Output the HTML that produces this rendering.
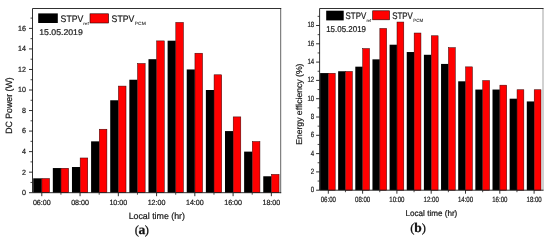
<!DOCTYPE html>
<html><head><meta charset="utf-8"><title>Figure</title>
<style>html,body{margin:0;padding:0;background:#fff}svg{display:block;filter:blur(0.35px)}</style></head>
<body>
<svg width="550" height="241" viewBox="0 0 550 241">
<style>
text{font-family:"Liberation Sans",sans-serif;fill:#1a1a1a;stroke:#1a1a1a;stroke-width:0.22px;font-variant-ligatures:none;text-rendering:geometricPrecision}
text.sub{stroke-width:0.08px;fill:#2a2a2a}
text.cap{font-family:"Liberation Serif",serif;fill:#111;stroke:#111;stroke-width:0.25px}
</style>
<rect width="550" height="241" fill="#fff"/>
<rect x="33.20" y="178.32" width="8.60" height="14.38" fill="#000"/>
<rect x="41.90" y="178.52" width="7.60" height="14.18" fill="#f00" stroke="#300" stroke-width="0.5"/>
<rect x="52.83" y="168.05" width="8.10" height="24.65" fill="#000"/>
<rect x="61.03" y="168.25" width="7.60" height="24.45" fill="#f00" stroke="#300" stroke-width="0.5"/>
<rect x="71.96" y="167.02" width="8.10" height="25.68" fill="#000"/>
<rect x="80.16" y="157.98" width="7.60" height="34.72" fill="#f00" stroke="#300" stroke-width="0.5"/>
<rect x="91.09" y="141.35" width="8.10" height="51.35" fill="#000"/>
<rect x="99.29" y="129.23" width="7.60" height="63.47" fill="#f00" stroke="#300" stroke-width="0.5"/>
<rect x="110.22" y="100.27" width="8.10" height="92.43" fill="#000"/>
<rect x="118.42" y="86.09" width="7.60" height="106.61" fill="#f00" stroke="#300" stroke-width="0.5"/>
<rect x="129.35" y="79.73" width="8.10" height="112.97" fill="#000"/>
<rect x="137.55" y="63.50" width="7.60" height="129.20" fill="#f00" stroke="#300" stroke-width="0.5"/>
<rect x="148.48" y="59.19" width="8.10" height="133.51" fill="#000"/>
<rect x="156.68" y="40.90" width="7.60" height="151.80" fill="#f00" stroke="#300" stroke-width="0.5"/>
<rect x="167.61" y="40.70" width="8.10" height="152.00" fill="#000"/>
<rect x="175.81" y="22.42" width="7.60" height="170.28" fill="#f00" stroke="#300" stroke-width="0.5"/>
<rect x="186.74" y="69.46" width="8.10" height="123.24" fill="#000"/>
<rect x="194.94" y="53.23" width="7.60" height="139.47" fill="#f00" stroke="#300" stroke-width="0.5"/>
<rect x="205.87" y="90.00" width="8.10" height="102.70" fill="#000"/>
<rect x="214.07" y="74.80" width="7.60" height="117.90" fill="#f00" stroke="#300" stroke-width="0.5"/>
<rect x="225.00" y="131.08" width="8.10" height="61.62" fill="#000"/>
<rect x="233.20" y="116.90" width="7.60" height="75.80" fill="#f00" stroke="#300" stroke-width="0.5"/>
<rect x="244.13" y="151.62" width="8.10" height="41.08" fill="#000"/>
<rect x="252.33" y="141.55" width="7.60" height="51.15" fill="#f00" stroke="#300" stroke-width="0.5"/>
<rect x="263.26" y="176.27" width="8.10" height="16.43" fill="#000"/>
<rect x="271.46" y="174.41" width="7.60" height="18.29" fill="#f00" stroke="#300" stroke-width="0.5"/>
<path d="M280.7 8.05V193.14999999999998" fill="none" stroke="#555" stroke-width="0.9"/>
<path d="M280.7 8.5H32.5V192.7H280.7" fill="none" stroke="#1a1a1a" stroke-width="0.9" stroke-linecap="square"/>
<line x1="29.0" x2="32.5" y1="192.70" y2="192.70" stroke="#1a1a1a" stroke-width="0.9"/>
<text transform="translate(26.00,195.10) scale(0.95,1)" font-size="7.5" text-anchor="end">0</text>
<line x1="30.5" x2="32.5" y1="182.43" y2="182.43" stroke="#1a1a1a" stroke-width="0.8"/>
<line x1="29.0" x2="32.5" y1="172.16" y2="172.16" stroke="#1a1a1a" stroke-width="0.9"/>
<text transform="translate(26.00,174.56) scale(0.95,1)" font-size="7.5" text-anchor="end">2</text>
<line x1="30.5" x2="32.5" y1="161.89" y2="161.89" stroke="#1a1a1a" stroke-width="0.8"/>
<line x1="29.0" x2="32.5" y1="151.62" y2="151.62" stroke="#1a1a1a" stroke-width="0.9"/>
<text transform="translate(26.00,154.02) scale(0.95,1)" font-size="7.5" text-anchor="end">4</text>
<line x1="30.5" x2="32.5" y1="141.35" y2="141.35" stroke="#1a1a1a" stroke-width="0.8"/>
<line x1="29.0" x2="32.5" y1="131.08" y2="131.08" stroke="#1a1a1a" stroke-width="0.9"/>
<text transform="translate(26.00,133.48) scale(0.95,1)" font-size="7.5" text-anchor="end">6</text>
<line x1="30.5" x2="32.5" y1="120.81" y2="120.81" stroke="#1a1a1a" stroke-width="0.8"/>
<line x1="29.0" x2="32.5" y1="110.54" y2="110.54" stroke="#1a1a1a" stroke-width="0.9"/>
<text transform="translate(26.00,112.94) scale(0.95,1)" font-size="7.5" text-anchor="end">8</text>
<line x1="30.5" x2="32.5" y1="100.27" y2="100.27" stroke="#1a1a1a" stroke-width="0.8"/>
<line x1="29.0" x2="32.5" y1="90.00" y2="90.00" stroke="#1a1a1a" stroke-width="0.9"/>
<text transform="translate(26.00,92.40) scale(0.95,1)" font-size="7.5" text-anchor="end">10</text>
<line x1="30.5" x2="32.5" y1="79.73" y2="79.73" stroke="#1a1a1a" stroke-width="0.8"/>
<line x1="29.0" x2="32.5" y1="69.46" y2="69.46" stroke="#1a1a1a" stroke-width="0.9"/>
<text transform="translate(26.00,71.86) scale(0.95,1)" font-size="7.5" text-anchor="end">12</text>
<line x1="30.5" x2="32.5" y1="59.19" y2="59.19" stroke="#1a1a1a" stroke-width="0.8"/>
<line x1="29.0" x2="32.5" y1="48.92" y2="48.92" stroke="#1a1a1a" stroke-width="0.9"/>
<text transform="translate(26.00,51.32) scale(0.95,1)" font-size="7.5" text-anchor="end">14</text>
<line x1="30.5" x2="32.5" y1="38.65" y2="38.65" stroke="#1a1a1a" stroke-width="0.8"/>
<line x1="29.0" x2="32.5" y1="28.38" y2="28.38" stroke="#1a1a1a" stroke-width="0.9"/>
<text transform="translate(26.00,30.78) scale(0.95,1)" font-size="7.5" text-anchor="end">16</text>
<line x1="30.5" x2="32.5" y1="18.11" y2="18.11" stroke="#1a1a1a" stroke-width="0.8"/>
<line x1="41.80" x2="41.80" y1="192.7" y2="196.2" stroke="#1a1a1a" stroke-width="0.9"/>
<text transform="translate(41.80,204.50) scale(0.95,1)" font-size="7.5" text-anchor="middle">06:00</text>
<line x1="60.93" x2="60.93" y1="192.7" y2="194.7" stroke="#1a1a1a" stroke-width="0.8"/>
<line x1="80.06" x2="80.06" y1="192.7" y2="196.2" stroke="#1a1a1a" stroke-width="0.9"/>
<text transform="translate(80.06,204.50) scale(0.95,1)" font-size="7.5" text-anchor="middle">08:00</text>
<line x1="99.19" x2="99.19" y1="192.7" y2="194.7" stroke="#1a1a1a" stroke-width="0.8"/>
<line x1="118.32" x2="118.32" y1="192.7" y2="196.2" stroke="#1a1a1a" stroke-width="0.9"/>
<text transform="translate(118.32,204.50) scale(0.95,1)" font-size="7.5" text-anchor="middle">10:00</text>
<line x1="137.45" x2="137.45" y1="192.7" y2="194.7" stroke="#1a1a1a" stroke-width="0.8"/>
<line x1="156.58" x2="156.58" y1="192.7" y2="196.2" stroke="#1a1a1a" stroke-width="0.9"/>
<text transform="translate(156.58,204.50) scale(0.95,1)" font-size="7.5" text-anchor="middle">12:00</text>
<line x1="175.71" x2="175.71" y1="192.7" y2="194.7" stroke="#1a1a1a" stroke-width="0.8"/>
<line x1="194.84" x2="194.84" y1="192.7" y2="196.2" stroke="#1a1a1a" stroke-width="0.9"/>
<text transform="translate(194.84,204.50) scale(0.95,1)" font-size="7.5" text-anchor="middle">14:00</text>
<line x1="213.97" x2="213.97" y1="192.7" y2="194.7" stroke="#1a1a1a" stroke-width="0.8"/>
<line x1="233.10" x2="233.10" y1="192.7" y2="196.2" stroke="#1a1a1a" stroke-width="0.9"/>
<text transform="translate(233.10,204.50) scale(0.95,1)" font-size="7.5" text-anchor="middle">16:00</text>
<line x1="252.23" x2="252.23" y1="192.7" y2="194.7" stroke="#1a1a1a" stroke-width="0.8"/>
<line x1="271.36" x2="271.36" y1="192.7" y2="196.2" stroke="#1a1a1a" stroke-width="0.9"/>
<text transform="translate(271.36,204.50) scale(0.95,1)" font-size="7.5" text-anchor="middle">18:00</text>
<rect x="320.10" y="73.08" width="8.20" height="117.12" fill="#000"/>
<rect x="328.40" y="73.28" width="6.80" height="116.92" fill="#f00" stroke="#300" stroke-width="0.5"/>
<rect x="338.15" y="71.25" width="7.30" height="118.95" fill="#000"/>
<rect x="345.55" y="71.45" width="6.80" height="118.75" fill="#f00" stroke="#300" stroke-width="0.5"/>
<rect x="355.30" y="66.67" width="7.30" height="123.53" fill="#000"/>
<rect x="362.70" y="48.57" width="6.80" height="141.63" fill="#f00" stroke="#300" stroke-width="0.5"/>
<rect x="372.45" y="59.35" width="7.30" height="130.84" fill="#000"/>
<rect x="379.85" y="28.44" width="6.80" height="161.76" fill="#f00" stroke="#300" stroke-width="0.5"/>
<rect x="389.60" y="44.71" width="7.30" height="145.49" fill="#000"/>
<rect x="397.00" y="22.04" width="6.80" height="168.16" fill="#f00" stroke="#300" stroke-width="0.5"/>
<rect x="406.75" y="52.03" width="7.30" height="138.16" fill="#000"/>
<rect x="414.15" y="33.02" width="6.80" height="157.18" fill="#f00" stroke="#300" stroke-width="0.5"/>
<rect x="423.90" y="54.78" width="7.30" height="135.42" fill="#000"/>
<rect x="431.30" y="35.77" width="6.80" height="154.44" fill="#f00" stroke="#300" stroke-width="0.5"/>
<rect x="441.05" y="63.93" width="7.30" height="126.27" fill="#000"/>
<rect x="448.45" y="47.66" width="6.80" height="142.54" fill="#f00" stroke="#300" stroke-width="0.5"/>
<rect x="458.20" y="81.31" width="7.30" height="108.89" fill="#000"/>
<rect x="465.60" y="66.87" width="6.80" height="123.33" fill="#f00" stroke="#300" stroke-width="0.5"/>
<rect x="475.35" y="89.55" width="7.30" height="100.65" fill="#000"/>
<rect x="482.75" y="80.60" width="6.80" height="109.60" fill="#f00" stroke="#300" stroke-width="0.5"/>
<rect x="492.50" y="89.55" width="7.30" height="100.65" fill="#000"/>
<rect x="499.90" y="85.17" width="6.80" height="105.03" fill="#f00" stroke="#300" stroke-width="0.5"/>
<rect x="509.65" y="98.70" width="7.30" height="91.50" fill="#000"/>
<rect x="517.05" y="89.75" width="6.80" height="100.45" fill="#f00" stroke="#300" stroke-width="0.5"/>
<rect x="526.80" y="101.44" width="7.30" height="88.75" fill="#000"/>
<rect x="534.20" y="89.75" width="6.80" height="100.45" fill="#f00" stroke="#300" stroke-width="0.5"/>
<path d="M543.0 8.05V190.64999999999998" fill="none" stroke="#999" stroke-width="0.9"/>
<path d="M543.0 8.5H319.6V190.2H543.0" fill="none" stroke="#1a1a1a" stroke-width="0.9" stroke-linecap="square"/>
<line x1="316.1" x2="319.6" y1="190.20" y2="190.20" stroke="#1a1a1a" stroke-width="0.9"/>
<text transform="translate(314.20,192.10) scale(0.8,1)" font-size="7.6" text-anchor="end">0</text>
<line x1="317.6" x2="319.6" y1="181.05" y2="181.05" stroke="#1a1a1a" stroke-width="0.8"/>
<line x1="316.1" x2="319.6" y1="171.90" y2="171.90" stroke="#1a1a1a" stroke-width="0.9"/>
<text transform="translate(314.20,173.80) scale(0.8,1)" font-size="7.6" text-anchor="end">2</text>
<line x1="317.6" x2="319.6" y1="162.75" y2="162.75" stroke="#1a1a1a" stroke-width="0.8"/>
<line x1="316.1" x2="319.6" y1="153.60" y2="153.60" stroke="#1a1a1a" stroke-width="0.9"/>
<text transform="translate(314.20,155.50) scale(0.8,1)" font-size="7.6" text-anchor="end">4</text>
<line x1="317.6" x2="319.6" y1="144.45" y2="144.45" stroke="#1a1a1a" stroke-width="0.8"/>
<line x1="316.1" x2="319.6" y1="135.30" y2="135.30" stroke="#1a1a1a" stroke-width="0.9"/>
<text transform="translate(314.20,137.20) scale(0.8,1)" font-size="7.6" text-anchor="end">6</text>
<line x1="317.6" x2="319.6" y1="126.15" y2="126.15" stroke="#1a1a1a" stroke-width="0.8"/>
<line x1="316.1" x2="319.6" y1="117.00" y2="117.00" stroke="#1a1a1a" stroke-width="0.9"/>
<text transform="translate(314.20,118.90) scale(0.8,1)" font-size="7.6" text-anchor="end">8</text>
<line x1="317.6" x2="319.6" y1="107.85" y2="107.85" stroke="#1a1a1a" stroke-width="0.8"/>
<line x1="316.1" x2="319.6" y1="98.70" y2="98.70" stroke="#1a1a1a" stroke-width="0.9"/>
<text transform="translate(314.20,100.60) scale(0.8,1)" font-size="7.6" text-anchor="end">10</text>
<line x1="317.6" x2="319.6" y1="89.55" y2="89.55" stroke="#1a1a1a" stroke-width="0.8"/>
<line x1="316.1" x2="319.6" y1="80.40" y2="80.40" stroke="#1a1a1a" stroke-width="0.9"/>
<text transform="translate(314.20,82.30) scale(0.8,1)" font-size="7.6" text-anchor="end">12</text>
<line x1="317.6" x2="319.6" y1="71.25" y2="71.25" stroke="#1a1a1a" stroke-width="0.8"/>
<line x1="316.1" x2="319.6" y1="62.10" y2="62.10" stroke="#1a1a1a" stroke-width="0.9"/>
<text transform="translate(314.20,64.00) scale(0.8,1)" font-size="7.6" text-anchor="end">14</text>
<line x1="317.6" x2="319.6" y1="52.95" y2="52.95" stroke="#1a1a1a" stroke-width="0.8"/>
<line x1="316.1" x2="319.6" y1="43.80" y2="43.80" stroke="#1a1a1a" stroke-width="0.9"/>
<text transform="translate(314.20,45.70) scale(0.8,1)" font-size="7.6" text-anchor="end">16</text>
<line x1="317.6" x2="319.6" y1="34.65" y2="34.65" stroke="#1a1a1a" stroke-width="0.8"/>
<line x1="316.1" x2="319.6" y1="25.50" y2="25.50" stroke="#1a1a1a" stroke-width="0.9"/>
<text transform="translate(314.20,27.40) scale(0.8,1)" font-size="7.6" text-anchor="end">18</text>
<line x1="317.6" x2="319.6" y1="16.35" y2="16.35" stroke="#1a1a1a" stroke-width="0.8"/>
<line x1="328.30" x2="328.30" y1="190.2" y2="193.7" stroke="#1a1a1a" stroke-width="0.9"/>
<text transform="translate(328.30,201.70) scale(0.8,1)" font-size="7.6" text-anchor="middle">06:00</text>
<line x1="345.45" x2="345.45" y1="190.2" y2="192.2" stroke="#1a1a1a" stroke-width="0.8"/>
<line x1="362.60" x2="362.60" y1="190.2" y2="193.7" stroke="#1a1a1a" stroke-width="0.9"/>
<text transform="translate(362.60,201.70) scale(0.8,1)" font-size="7.6" text-anchor="middle">08:00</text>
<line x1="379.75" x2="379.75" y1="190.2" y2="192.2" stroke="#1a1a1a" stroke-width="0.8"/>
<line x1="396.90" x2="396.90" y1="190.2" y2="193.7" stroke="#1a1a1a" stroke-width="0.9"/>
<text transform="translate(396.90,201.70) scale(0.8,1)" font-size="7.6" text-anchor="middle">10:00</text>
<line x1="414.05" x2="414.05" y1="190.2" y2="192.2" stroke="#1a1a1a" stroke-width="0.8"/>
<line x1="431.20" x2="431.20" y1="190.2" y2="193.7" stroke="#1a1a1a" stroke-width="0.9"/>
<text transform="translate(431.20,201.70) scale(0.8,1)" font-size="7.6" text-anchor="middle">12:00</text>
<line x1="448.35" x2="448.35" y1="190.2" y2="192.2" stroke="#1a1a1a" stroke-width="0.8"/>
<line x1="465.50" x2="465.50" y1="190.2" y2="193.7" stroke="#1a1a1a" stroke-width="0.9"/>
<text transform="translate(465.50,201.70) scale(0.8,1)" font-size="7.6" text-anchor="middle">14:00</text>
<line x1="482.65" x2="482.65" y1="190.2" y2="192.2" stroke="#1a1a1a" stroke-width="0.8"/>
<line x1="499.80" x2="499.80" y1="190.2" y2="193.7" stroke="#1a1a1a" stroke-width="0.9"/>
<text transform="translate(499.80,201.70) scale(0.8,1)" font-size="7.6" text-anchor="middle">16:00</text>
<line x1="516.95" x2="516.95" y1="190.2" y2="192.2" stroke="#1a1a1a" stroke-width="0.8"/>
<line x1="534.10" x2="534.10" y1="190.2" y2="193.7" stroke="#1a1a1a" stroke-width="0.9"/>
<text transform="translate(534.10,201.70) scale(0.8,1)" font-size="7.6" text-anchor="middle">18:00</text>
<rect x="38.2" y="13.4" width="19.6" height="9.6" fill="#000"/>
<text transform="translate(60.60,21.80) scale(0.915,1)" font-size="9.5" text-anchor="start">STPV</text><text transform="translate(83.30,24.60) scale(1.1,1)" font-size="4.2" text-anchor="start" class="sub">ref</text>
<rect x="90.0" y="13.8" width="18.6" height="9.2" fill="#f00" stroke="#200" stroke-width="0.6"/>
<text transform="translate(111.60,21.80) scale(0.915,1)" font-size="9.5" text-anchor="start">STPV</text><text transform="translate(134.80,24.50) scale(1.1,1)" font-size="4.5" text-anchor="start" class="sub">PCM</text>
<text transform="translate(39.20,35.40) scale(1.05,1)" font-size="8.3" text-anchor="start">15.05.2019</text>
<text transform="translate(156.80,218.60) scale(0.98,1)" font-size="9.0" text-anchor="middle">Local time (hr)</text>
<text transform="translate(12.30,105.60) rotate(-90) scale(1,1.04)" font-size="8.75" text-anchor="middle">DC Power (W)</text>
<text transform="translate(141.80,234.30)" font-size="12.5" text-anchor="middle" class="cap">(<tspan font-weight="bold" font-size="13.6" dx="-0.4">a</tspan><tspan dx="-0.4">)</tspan></text>
<rect x="326.2" y="10.7" width="17.5" height="9.7" fill="#000"/>
<text transform="translate(345.60,18.90) scale(0.832,1)" font-size="9.5" text-anchor="start">STPV</text><text transform="translate(366.40,21.50)" font-size="4.2" text-anchor="start" class="sub">ref</text>
<rect x="372.7" y="10.8" width="16.8" height="9.0" fill="#f00" stroke="#200" stroke-width="0.6"/>
<text transform="translate(392.20,18.90) scale(0.832,1)" font-size="9.5" text-anchor="start">STPV</text><text transform="translate(413.20,21.50)" font-size="4.5" text-anchor="start" class="sub">PCM</text>
<text transform="translate(326.20,32.30) scale(0.935,1)" font-size="8.5" text-anchor="start">15.05.2019</text>
<text transform="translate(431.40,215.60) scale(0.99,1)" font-size="8.2" text-anchor="middle">Local time (hr)</text>
<text transform="translate(302.10,104.20) rotate(-90) scale(1,0.98)" font-size="8.65" text-anchor="middle">Energy efficiency (%)</text>
<text transform="translate(418.00,231.60)" font-size="12.5" text-anchor="middle" class="cap">(<tspan font-weight="bold" font-size="13.4" dx="-0.2">b</tspan><tspan dx="0.1">)</tspan></text>
</svg>
</body></html>
